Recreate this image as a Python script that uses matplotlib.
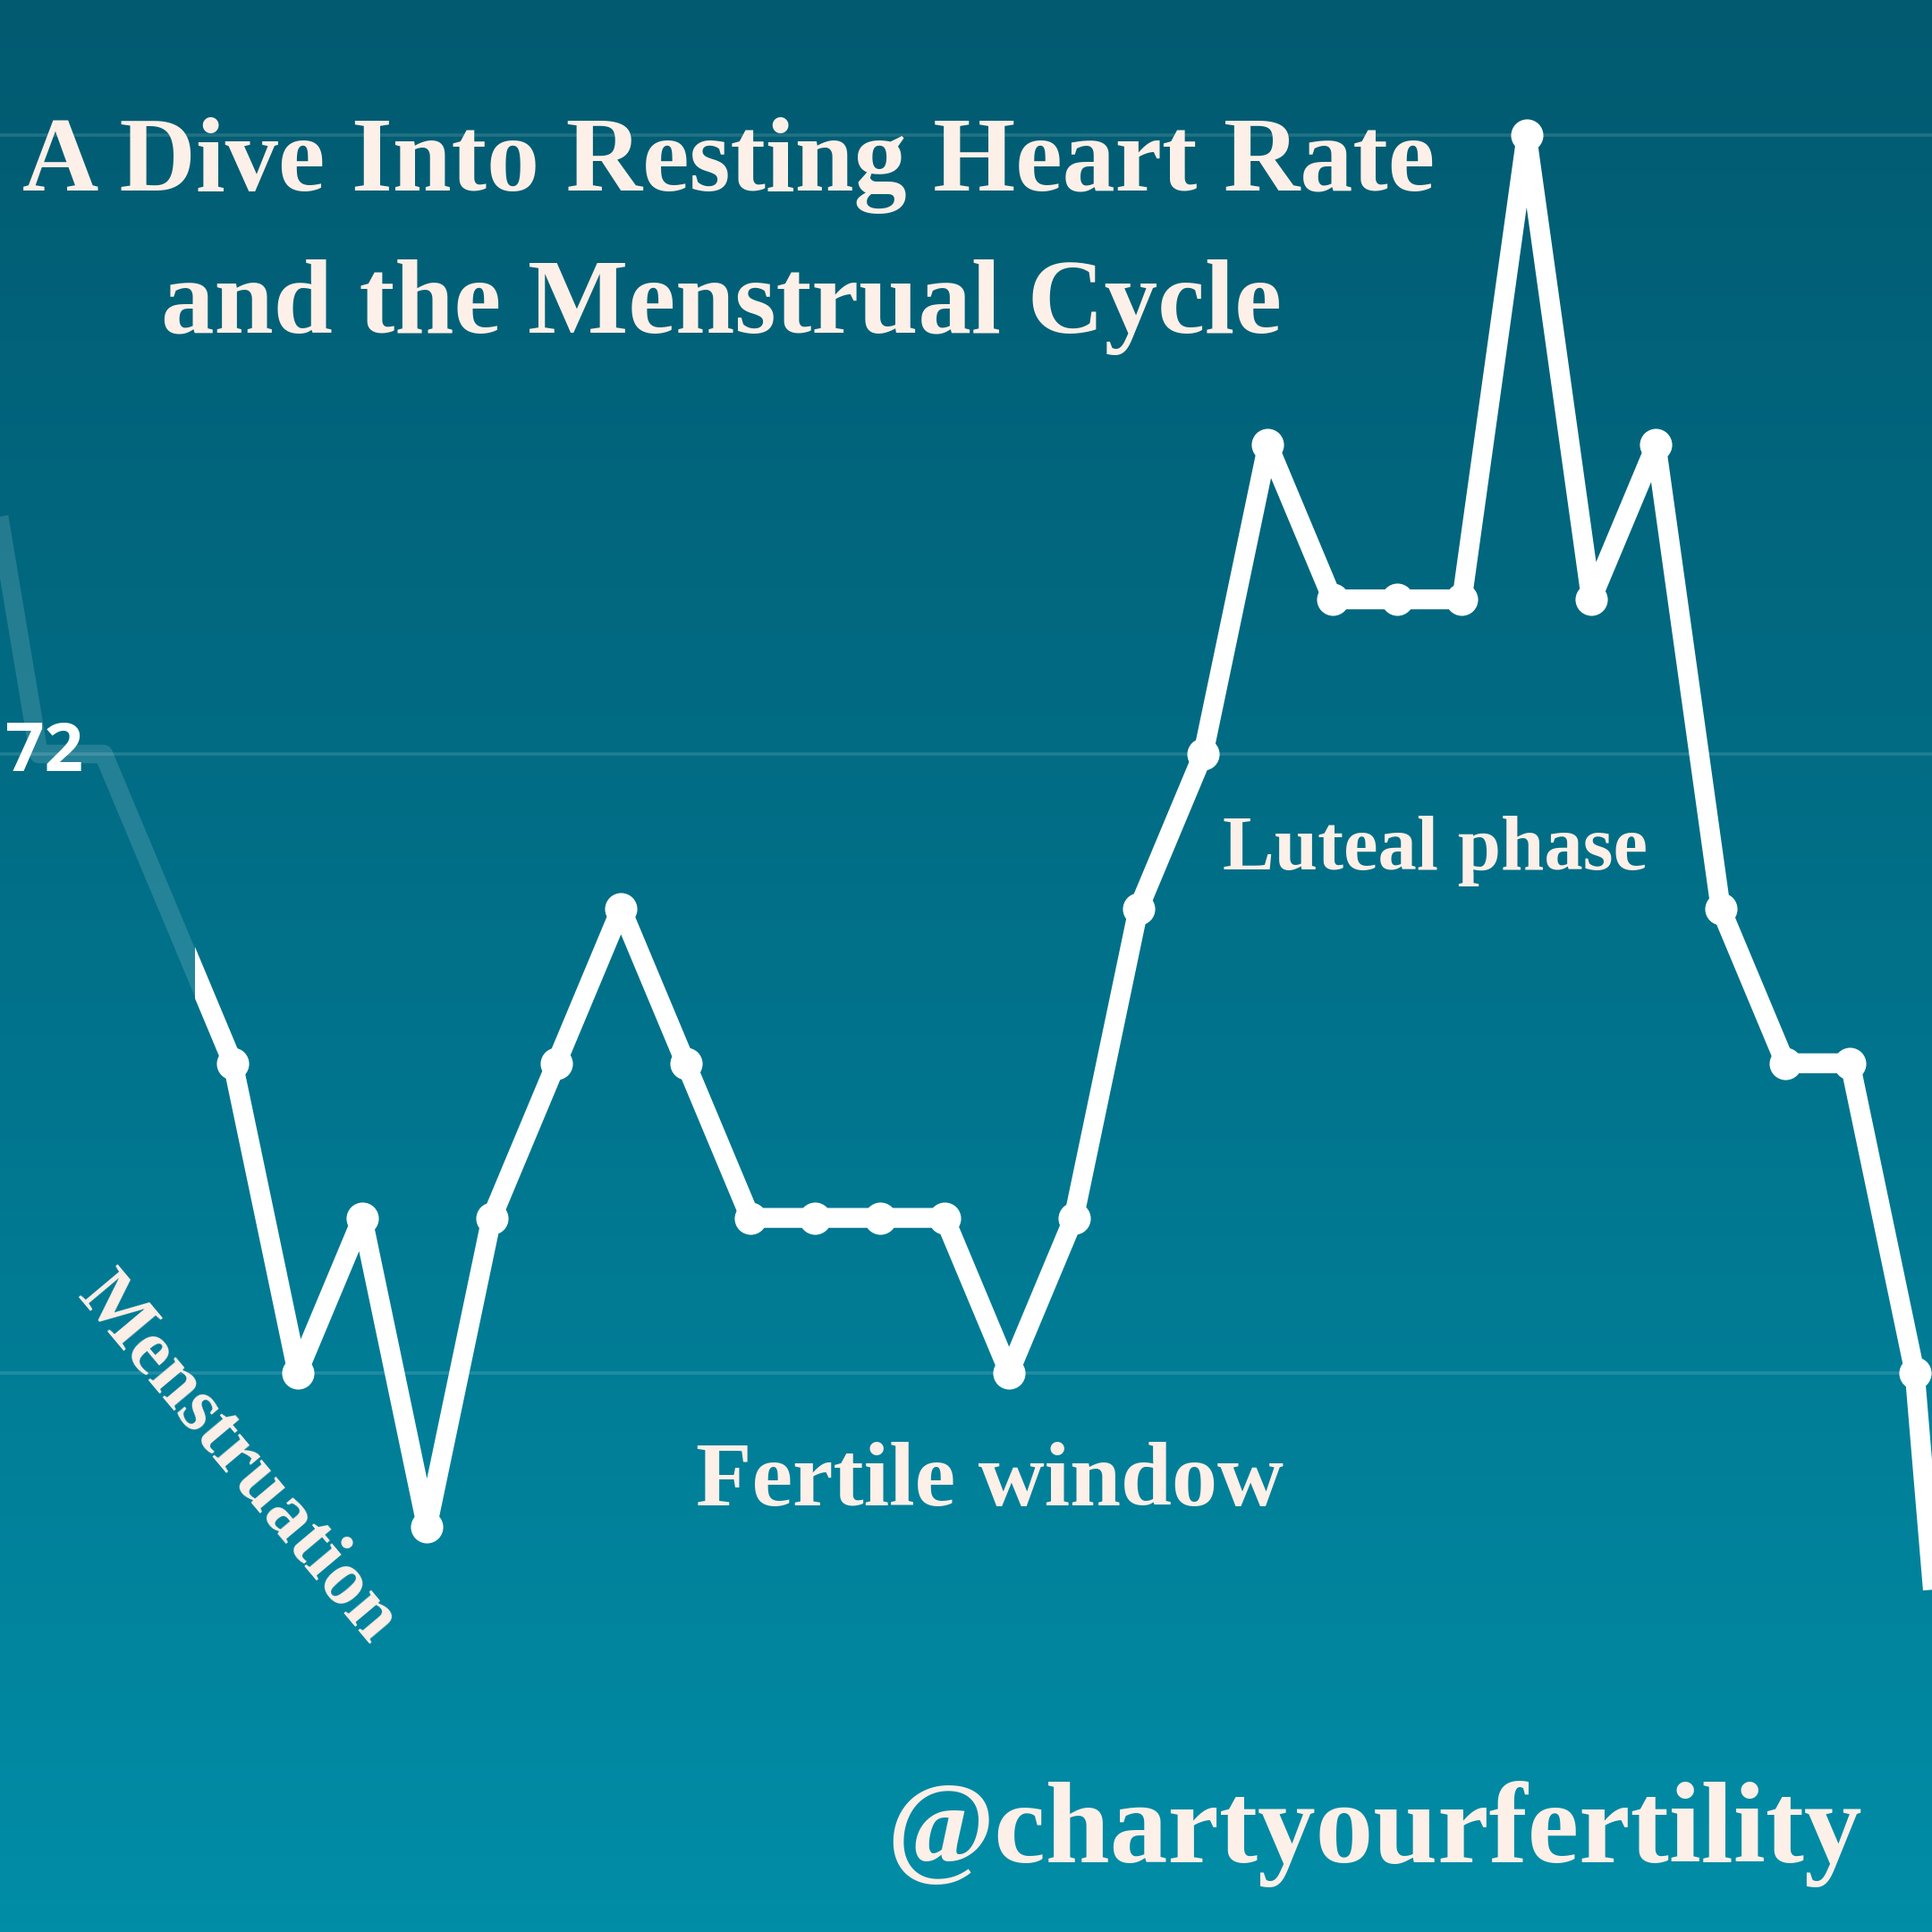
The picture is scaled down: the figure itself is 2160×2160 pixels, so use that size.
import numpy as np
import matplotlib
matplotlib.use("Agg")
import matplotlib.pyplot as plt
from matplotlib.colors import LinearSegmentedColormap
from matplotlib.patches import Rectangle

# ---------------- data ----------------
days = list(range(32))
resting_hr = [74.5, 72, 72, 71, 70, 68, 69, 67, 69, 70, 71, 70, 69, 69, 69, 69,
              68, 69, 71, 72, 74, 73, 73, 73, 76, 73, 74, 71, 70, 70, 68, 63]
first_marker_day = 4
last_marker_day = 30
grid_values = [68, 72, 76]
tick_value = 72
tick_label = "72"
title_lines = ["A Dive Into Resting Heart Rate", "and the Menstrual Cycle"]
label_menstruation = "Menstruation"
label_fertile = "Fertile window"
label_luteal = "Luteal phase"
handle_text = "@chartyourfertility"

# ---------------- figure ----------------
W = H = 2160
DPI = 100
fig = plt.figure(figsize=(W / DPI, H / DPI), dpi=DPI)

bg = fig.add_axes([0, 0, 1, 1])
bg.axis("off")
grad = np.linspace(0, 1, 600).reshape(-1, 1)
cmap = LinearSegmentedColormap.from_list("bg", ["#015a70", "#01718a", "#028da7"])
bg.imshow(grad, aspect="auto", cmap=cmap, extent=[0, 1, 0, 1], origin="upper")
bg.set_xlim(0, 1)
bg.set_ylim(0, 1)

ax = fig.add_axes([0, 0, 1, 1])
ax.set_facecolor("none")
ax.set_xlim(0.4, 30.267)
ax.set_ylim(64.382, 76.876)
ax.axis("off")

for g in grid_values:
    ax.axhline(g, color="white", alpha=0.13, lw=2.6, zorder=1)

d = np.array(days)
v = np.array(resting_hr)

# faded (out-of-range) part of the line
ax.plot(d[:first_marker_day + 1], v[:first_marker_day + 1], color="white",
        alpha=0.14, lw=15, solid_joinstyle="round", solid_capstyle="butt", zorder=2)

# main white line, clipped at its left start
line, = ax.plot(d[first_marker_day - 1:], v[first_marker_day - 1:], color="white",
                lw=16, solid_joinstyle="round", solid_capstyle="butt", zorder=3)
clip = Rectangle((3.41, 50), 40, 40, transform=ax.transData)
line.set_clip_path(clip)

ax.plot(d[first_marker_day:last_marker_day + 1], v[first_marker_day:last_marker_day + 1],
        "o", ms=26, color="white", mec="none", zorder=4)

# tick label
ax.text(0.003, tick_value, tick_label, transform=ax.get_yaxis_transform(),
        ha="left", va="center", fontsize=55, color="white",
        family=["Open Sans", "DejaVu Sans"], fontweight="bold", zorder=5)

# ---------------- text ----------------
renderer = fig.canvas.get_renderer()
cream = "#fdf0e8"
serif = ["Liberation Serif", "DejaVu Serif"]


def fit_text(s, xc, yb, width_px, rotation=0, va="baseline"):
    t = fig.text(xc / W, 1 - yb / H, s, ha="center", va=va, fontsize=100,
                 color=cream, family=serif, fontweight="bold", zorder=10)
    bb = t.get_window_extent(renderer)
    t.set_fontsize(100 * width_px / bb.width)
    if rotation:
        t.set_rotation(rotation)
        t.set_rotation_mode("anchor")
    return t


fit_text(title_lines[0], (25 + 1605) / 2, 213, 1580)
fit_text(title_lines[1], (179 + 1433) / 2, 372, 1254)
fit_text(label_luteal, (1367 + 1842) / 2, 972, 475)
fit_text(label_fertile, (778 + 1435) / 2, 1683, 657)
fit_text(handle_text, (991 + 2081) / 2, 2082, 1090)
fit_text(label_menstruation, 265, 1632, 510, rotation=-50, va="center")

fig.savefig("out.png", dpi=DPI)
